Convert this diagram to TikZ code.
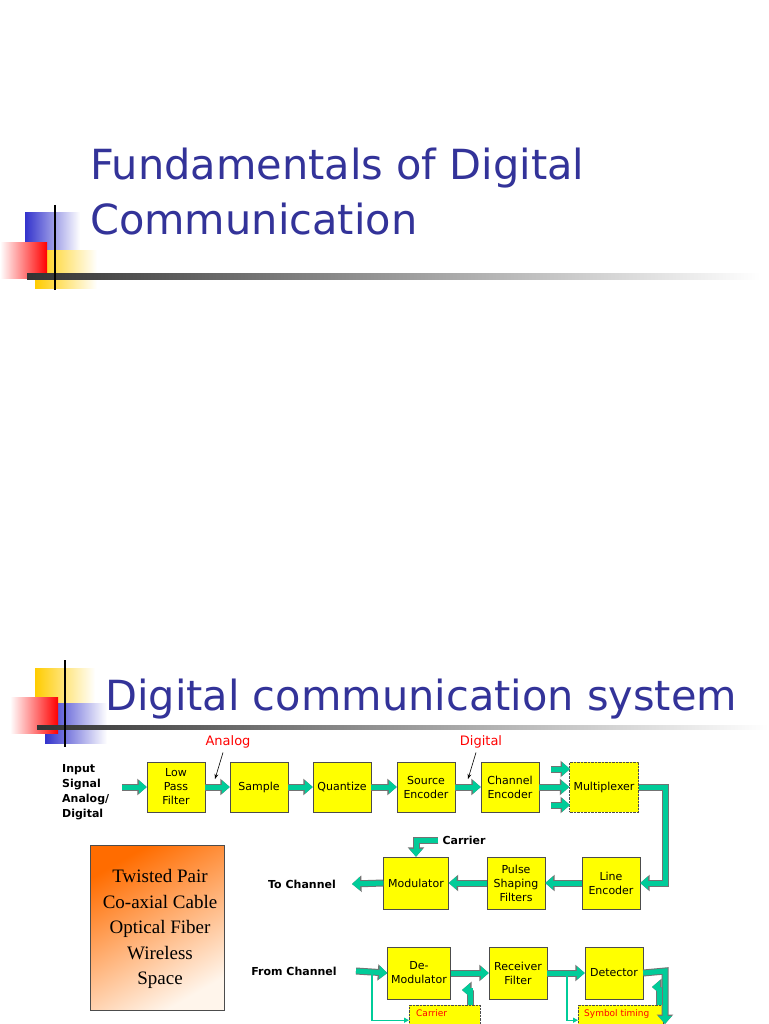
\documentclass[tikz,border=0pt]{standalone}
\usepackage{fontspec}
\setmainfont{DejaVu Sans}
\newfontfamily\tnr{Liberation Serif}
\usetikzlibrary{arrows.meta,calc,shadings}
\definecolor{navy}{RGB}{51,51,153}
\definecolor{gr}{RGB}{0,204,153}
\definecolor{bl}{RGB}{51,51,204}
\definecolor{yl}{RGB}{255,204,0}
\definecolor{boxy}{RGB}{255,255,0}
\tikzset{
 blk/.style={draw=black!70,fill=boxy,minimum width=58pt,minimum height=50pt,inner sep=1pt,align=center,font=\fontsize{11}{14}\selectfont},
 garrow/.style={gr,line width=5pt,-{Triangle[width=13pt,length=8pt]},preaction={draw=black!55,line width=7pt,-{Triangle[width=16pt,length=9.5pt]}}},
 thin g/.style={gr,line width=1.2pt,-{Triangle[width=5pt,length=5pt]}},
 lbl/.style={font=\bfseries\fontsize{11}{13}\selectfont,inner sep=0pt},
 red lbl/.style={red,font=\fontsize{13}{15}\selectfont,inner sep=0pt},
 ttl/.style={navy,anchor=base west,inner sep=0pt,font=\fontsize{41.5}{48}\selectfont}
}
\begin{document}
\begin{tikzpicture}[x=1pt,y=-1pt]
\useasboundingbox[fill=white] (0,0) rectangle (768,1024);
% slide 1 decoration
\shade[left color=bl,right color=white] (25,213) rectangle (80,266);
\shade[left color=yl,right color=white] (35,250) rectangle (97,288);
\shade[left color=white,right color=red] (0,242) rectangle (47,278);
\shade[left color=black!80,right color=white] (27,273) rectangle (760,279);
\draw[line width=1.5pt] (55,205) -- (55,290);
\node[ttl] (t1) at (90,180) {Fundamentals of Digital};
\node[ttl] (t2) at (90,234) {Communication};
% slide 2 decoration
\shade[left color=yl,right color=white] (35,668) rectangle (95,705);
\shade[left color=bl,right color=white] (45,703) rectangle (107,743);
\shade[left color=white,right color=red] (10,697) rectangle (58,733);
\shade[left color=black!80,right color=white] (37,725) rectangle (768,729);
\draw[line width=1.5pt] (65,660) -- (65,747);
\node[ttl] (t3) at (105,710) {Digital communication system};
% blocks
\node[blk,minimum width=58pt] (lpf) at (176,787) {Low\\Pass\\Filter};
\node[blk] (smp) at (259,787) {Sample};
\node[blk] (qnt) at (342,787) {Quantize};
\node[blk] (src) at (426,787) {Source\\Encoder};
\node[blk] (che) at (510,787) {Channel\\Encoder};
\node[blk,minimum width=69pt,densely dotted] (mux) at (604,787) {Multiplexer};
\node[blk,minimum height=52pt] (lin) at (611,883) {Line\\Encoder};
\node[blk,minimum height=52pt] (psf) at (516,883) {Pulse\\Shaping\\Filters};
\node[blk,minimum height=52pt,minimum width=65pt] (mod) at (416,883) {Modulator};
\node[blk,minimum height=52pt,minimum width=63pt] (dem) at (419,973) {De-\\Modulator};
\node[blk,minimum height=52pt] (rcv) at (518,973) {Receiver\\Filter};
\node[blk,minimum height=52pt] (det) at (614,973) {Detector};
\node[draw=black!70,densely dotted,fill=boxy,minimum width=71pt,minimum height=30pt,anchor=north west,inner sep=2pt] (cbox) at (409,1005) {};
\node[red,font=\fontsize{9}{10}\selectfont,anchor=north west,inner sep=0pt] (ctx) at (416,1009) {Carrier};
\node[draw=black!70,densely dotted,fill=boxy,minimum width=85pt,minimum height=30pt,anchor=north west,inner sep=2pt] (sbox) at (578,1005) {};
\node[red,font=\fontsize{9}{10}\selectfont,anchor=north west,inner sep=0pt] (stx) at (584,1009) {Symbol timing};
% media box
\shade[shading=axis,top color=orange!85!red,bottom color=orange!8,shading angle=30] (90.5,845.5) rectangle (223.5,1009.5);
\node[draw=black!70,minimum width=134pt,minimum height=165pt,anchor=north west] (med) at (90,845) {};
\node[font=\tnr\fontsize{19}{25.5}\selectfont,align=center] (medt) at (160,929) {Twisted Pair\\Co-axial Cable\\Optical Fiber\\Wireless\\Space};
% labels
\node[lbl,align=left,anchor=west,font=\bfseries\fontsize{11}{15}\selectfont] (inp) at (62,792) {Input\\Signal\\Analog/\\Digital};
\node[red lbl] (an) at (228,742) {Analog};
\node[red lbl] (dg) at (481,742) {Digital};
\node[lbl] (car) at (464,840) {Carrier};
\node[lbl] (toc) at (302,884) {To Channel};
\node[lbl] (frc) at (294,971) {From Channel};
\coordinate (inS) at (122,787);
\coordinate (toE) at (352,884);
\coordinate (frS) at (356,971);
\coordinate (m1) at (551,769);\coordinate (m1e) at (570,769);
\coordinate (m3) at (551,805);\coordinate (m3e) at (570,805);
\coordinate (mc) at (665,787);
\coordinate (dc) at (665,971);
% arrows
\draw[garrow] (inS) -- (lpf.west);
\draw[garrow] (lpf) -- (smp);
\draw[garrow] (smp) -- (qnt);
\draw[garrow] (qnt) -- (src);
\draw[garrow] (src) -- (che);
\draw[garrow] (che) -- (mux);
\draw[garrow] (m1) -- (m1e);
\draw[garrow] (m3) -- (m3e);
\draw[garrow] (mux.east) -- (mc) |- (lin.east);
\draw[garrow] (lin) -- (psf);
\draw[garrow] (psf) -- (mod);
\draw[garrow] (mod.west) -- (toE);
\draw[garrow] (car.west) ++(-4,0) -| (mod.north);
\draw[garrow] (frS) -- (dem.west);
\draw[garrow] (dem) -- (rcv);
\draw[garrow] (rcv) -- (det);
\draw[garrow] (det.east) -- (dc) -- (665,1024);
\draw[garrow] (cbox.north -| 470,0) -- (470,990) -- (462,990);
\draw[garrow] (sbox.north -| 659,0) -- (659,987) -- (652,987);
\draw[-{Stealth[length=5pt]},semithick] (an.south) ++(-5,4) -- (215,779);
\draw[-{Stealth[length=5pt]},semithick] (dg.south) ++(-5,4) -- (468,779);
\draw[thin g] (372,971) |- (cbox.west);
\draw[thin g] (567,971) |- (sbox.west);
\end{tikzpicture}
\end{document}
